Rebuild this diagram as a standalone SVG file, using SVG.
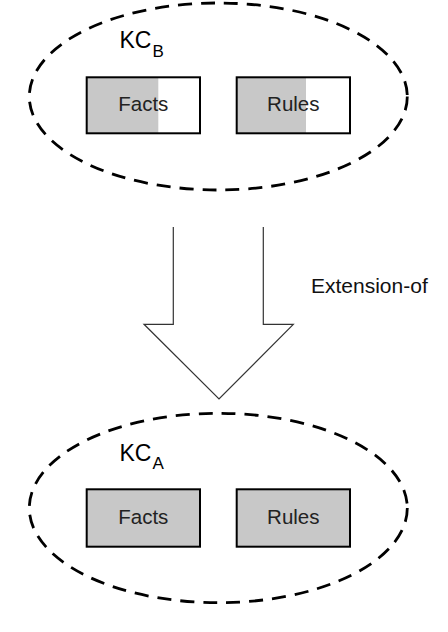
<svg xmlns="http://www.w3.org/2000/svg" width="448" height="632" viewBox="0 0 448 632">
<style>
.bg{fill:#ffffff}
.kc{fill:none;stroke:#000;stroke-width:2.8;stroke-dasharray:14 9}
.box{fill:none;stroke:#000;stroke-width:2}
.shade{fill:#c8c8c8}
.full{fill:#c8c8c8;stroke:#000;stroke-width:2}
.lbl{font-family:"Liberation Sans",Arial,sans-serif;font-size:20.5px;fill:#222;text-anchor:middle}
.kct{font-family:"Liberation Sans",Arial,sans-serif;font-size:23px;fill:#000}
.sub{font-size:17px}
.ext{font-family:"Liberation Sans",Arial,sans-serif;font-size:21px;fill:#111}
.arrow{fill:#fff;stroke:#333;stroke-width:1.2}
</style>
<rect class="bg" x="0" y="0" width="448" height="632"/>
<g id="kcb">
<ellipse class="kc" cx="218.3" cy="96.5" rx="189" ry="93.5"/>
<text class="kct" x="119.5" y="48.3">KC<tspan class="sub" x="152.5" y="57">B</tspan></text>
<g id="kcb-facts">
<rect class="shade" x="86.7" y="77.3" width="71.6" height="56"/>
<rect class="box" x="86.7" y="77.3" width="113.3" height="56"/>
<text class="lbl" x="143.3" y="111">Facts</text>
</g>
<g id="kcb-rules">
<rect class="shade" x="236.7" y="77.3" width="69.3" height="56"/>
<rect class="box" x="236.7" y="77.3" width="113.3" height="56"/>
<text class="lbl" x="293.3" y="111">Rules</text>
</g>
</g>
<g id="connectors">
<path class="arrow" d="M173.3 227 L173.3 324.3 L144 324.3 L219 399 L293.3 324.3 L263.3 324.3 L263.3 227"/>
<text class="ext" x="311" y="292.7">Extension-of</text>
</g>
<g id="kca">
<ellipse class="kc" cx="218.3" cy="508" rx="189" ry="94.7"/>
<text class="kct" x="119.5" y="460.7">KC<tspan class="sub" x="152.5" y="469.3">A</tspan></text>
<g id="kca-facts">
<rect class="full" x="86.7" y="489.3" width="113.3" height="57.4"/>
<text class="lbl" x="143.3" y="524">Facts</text>
</g>
<g id="kca-rules">
<rect class="full" x="236.7" y="489.3" width="113.3" height="57.4"/>
<text class="lbl" x="293.3" y="524">Rules</text>
</g>
</g>
</svg>
